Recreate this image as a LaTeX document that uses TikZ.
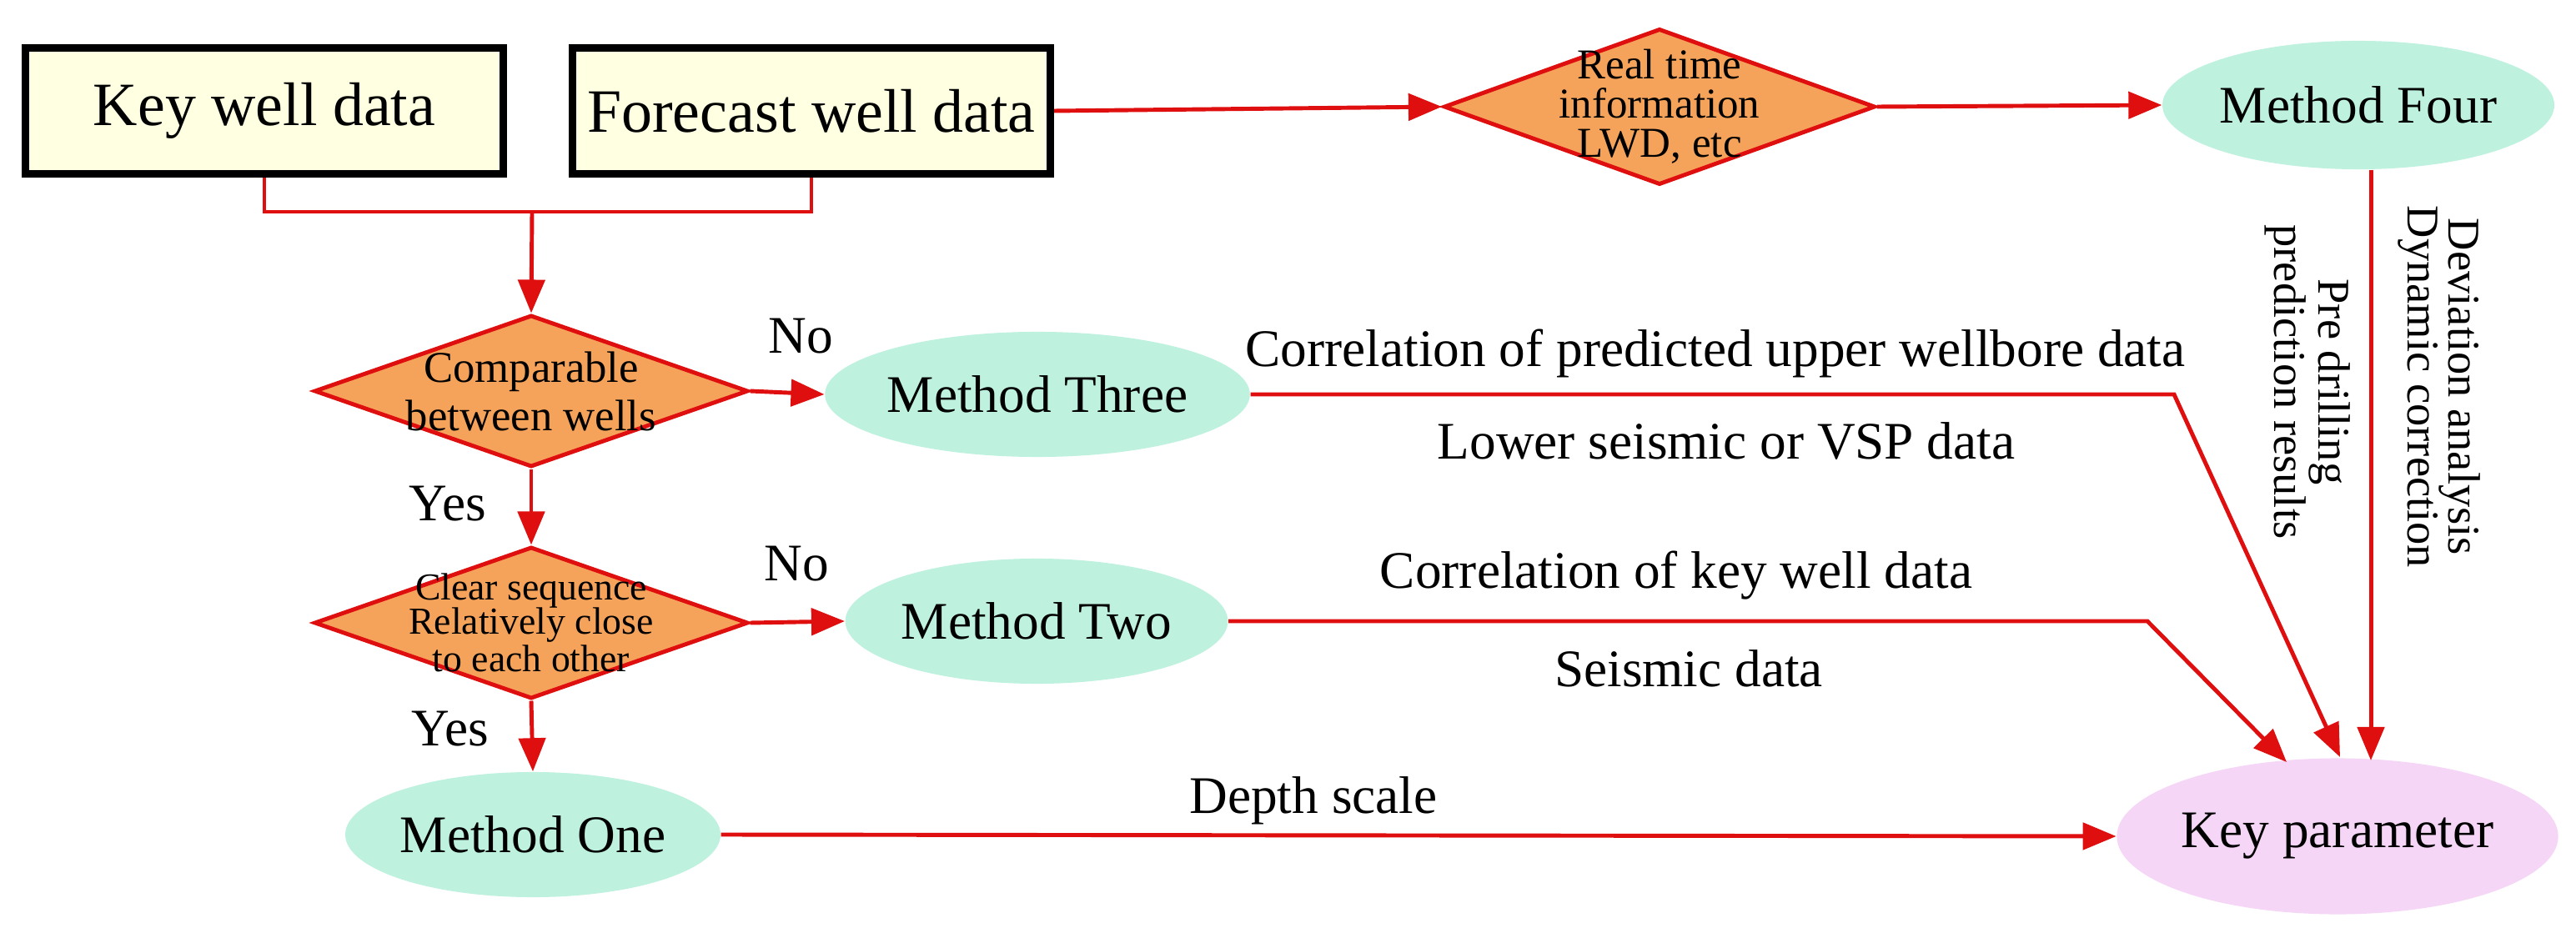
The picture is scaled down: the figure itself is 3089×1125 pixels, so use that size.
\documentclass[tikz,border=0pt]{standalone}
\usepackage{fontspec}
\setmainfont{Liberation Serif}
\usetikzlibrary{shapes.geometric,arrows.meta}
\definecolor{lred}{rgb}{0.88,0.06,0.06}
\definecolor{dfill}{HTML}{F5A35A}
\definecolor{efill}{HTML}{BEF2DE}
\definecolor{pfill}{HTML}{F6D6F6}
\definecolor{bfill}{HTML}{FFFFE2}
\tikzset{
  every node/.style={font=\rmfamily},
  databox/.style={draw=black,line width=2.5pt,fill=bfill,minimum width=5.73cm,minimum height=1.51cm,inner sep=0pt,font=\rmfamily\fontsize{21}{24}\selectfont},
  decide/.style={diamond,draw=lred,line width=1.4pt,fill=dfill,inner sep=0pt,aspect=2.9,minimum width=5.2cm,minimum height=1.82cm},
  dtext/.style={inner sep=0pt,align=center},
  method/.style={ellipse,fill=efill,inner sep=0pt,minimum width=4.2cm,minimum height=1.5cm,font=\rmfamily\fontsize{18}{20}\selectfont},
  flow/.style={draw=lred,line width=1.4pt},
  arr/.style={flow,-{Triangle[length=0.4cm,width=0.32cm]}},
  lab/.style={font=\rmfamily\fontsize{18}{20}\selectfont,inner sep=0pt},
  yn/.style={font=\rmfamily\fontsize{18}{20}\selectfont,inner sep=0pt}
}
\begin{document}
\begin{tikzpicture}[x=0.01cm,y=-0.01cm]
\fill[white] (0,0) rectangle (3089,1125);
\useasboundingbox (0,0) rectangle (3089,1125);
\node[databox] (kw) at (317,133) {Key well data};
\node[databox] (fw) at (973,133) {Forecast well data};
\node[decide] (d1) at (637,469) {};
\node[dtext,font=\rmfamily\fontsize{15}{16.5}\selectfont] (t1) at (d1) {Comparable\\between wells};
\node[decide] (d2) at (637,747) {};
\node[dtext,font=\rmfamily\fontsize{13}{11.8}\selectfont] (t2) at (d2) {Clear sequence\\Relatively close\\to each other};
\node[decide,aspect=2.75,minimum width=5.17cm,minimum height=1.87cm] (rt) at (1990,128) {};
\node[dtext,font=\rmfamily\fontsize{14.5}{13.4}\selectfont] (t3) at (rt) {Real time\\information\\LWD, etc};
\node[method] (m3) at (1244,473) {Method Three};
\node[method] (m2) at (1243,745) {Method Two};
\node[method] (m1) at (639,1001) {Method One};
\node[method,minimum width=4.48cm,minimum height=1.54cm] (m4) at (2828,126) {Method Four};
\node[method,fill=pfill,minimum width=5.07cm,minimum height=1.87cm] (kp) at (2803,1003) {Key parameter};
\coordinate (j) at (638,254);
\coordinate (k4) at (2843,912);
\coordinate (b3) at (2607,473);
\coordinate (k3) at (2806,908);
\coordinate (b2) at (2575,745);
\coordinate (k2) at (2742,914);
\draw[flow] (kw.south) |- (j) -| (fw.south);
\draw[arr] (j) -- (d1.north);
\draw[arr] (fw.east) -- (rt.west);
\draw[arr] (rt.east) -- (m4.west);
\draw[arr] (m4.south -| k4) -- (k4);
\draw[arr] (d1.east) -- (m3.west);
\draw[arr] (d2.east) -- (m2.west);
\draw[arr] (d1.south) -- (d2.north);
\draw[arr] (d2.south) -- (m1.north);
\draw[arr] (m3.east) -- (b3) -- (k3);
\draw[arr] (m2.east) -- (b2) -- (k2);
\draw[arr] (m1.east) -- (kp.west);
\node[yn] (n1) at (960,403) {No};
\node[yn] (n2) at (955,676) {No};
\node[yn] (y1) at (537,604) {Yes};
\node[yn] (y2) at (540,874) {Yes};
\node[lab] (l1) at (2057,424) {Correlation of predicted upper wellbore data};
\node[lab] (l2) at (2070,529) {Lower seismic or VSP data};
\node[lab] (l3) at (2010,690) {Correlation of key well data};
\node[lab] (l4) at (2025,802) {Seismic data};
\node[lab] (l5) at (1575,960) {Depth scale};
\node[lab,font=\rmfamily\fontsize{15.5}{14}\selectfont,rotate=-90,align=center] (r1) at (2767,458) {Pre drilling\\prediction results};
\node[lab,font=\rmfamily\fontsize{15.5}{14}\selectfont,rotate=-90,align=center] (r2) at (2925,464) {Deviation analysis\\Dynamic correction};
\end{tikzpicture}
\end{document}
